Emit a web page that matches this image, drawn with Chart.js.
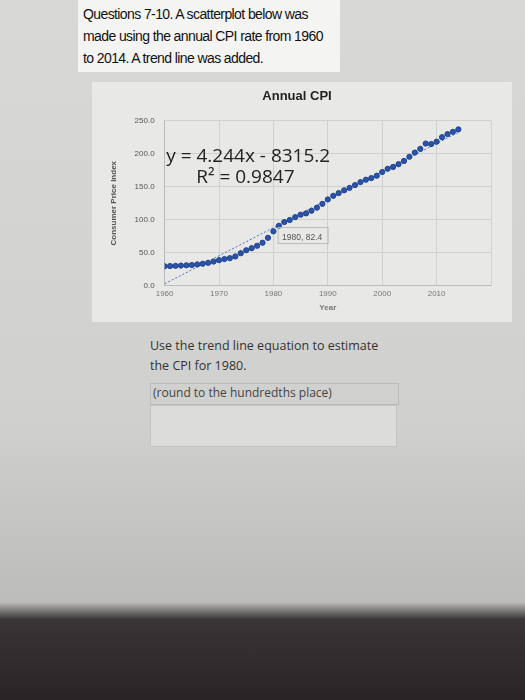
<!DOCTYPE html>
<html>
<head>
<meta charset="utf-8">
<script src="https://cdn.jsdelivr.net/npm/chart.js@4/dist/chart.umd.min.js"></script>
<style>
  body { margin: 0; width: 525px; height: 700px; overflow: hidden; position: relative;
         background: linear-gradient(180deg, #d8d8d6 0%, #d0d0ce 60%, #bcbcba 86%, #3a3436 88.5%, #2a2426 100%);
         font-family: "Open Sans", sans-serif; }
  #question { position: absolute; left: 78px; top: 0; width: 262px; height: 72px; background: #f4f4f2;
              font-family: "Liberation Sans", sans-serif; letter-spacing: -0.6px;
              font-size: 14px; line-height: 22px; color: #111; padding: 3px 5px; box-sizing: border-box; }
  #panel { position: absolute; left: 92px; top: 82px; width: 420px; height: 240px; background: #e8e8e6; }
  #chartBox { position: absolute; left: 95px; top: 85px; width: 410px; height: 230px; }
  #prompt { position: absolute; left: 150px; top: 336px; font-size: 12.5px; line-height: 20px; color: #333; }
  #hint { position: absolute; left: 150px; top: 383px; width: 245px; height: 20px; border: 1px solid #bbb;
          font-size: 12px; color: #444; padding-left: 2px; }
  #answer { position: absolute; left: 150px; top: 405px; width: 245px; height: 40px; border: 1px solid #c4c4c2; background: #dcdcda; }
</style>
</head>
<body>
<div id="question">Questions 7-10. A scatterplot below was made using the annual CPI rate from 1960 to 2014. A trend line was added.</div>
<div id="panel"></div>
<div id="chartBox"><canvas id="cpiChart"></canvas></div>
<div id="prompt">Use the trend line equation to estimate<br>the CPI for 1980.</div>
<div id="hint">(round to the hundredths place)</div>
<div id="answer"></div>
<script>
// --- DATA ---
const years = [1960,1961,1962,1963,1964,1965,1966,1967,1968,1969,1970,1971,1972,1973,1974,1975,1976,1977,1978,1979,
  1980,1981,1982,1983,1984,1985,1986,1987,1988,1989,1990,1991,1992,1993,1994,1995,1996,1997,1998,1999,
  2000,2001,2002,2003,2004,2005,2006,2007,2008,2009,2010,2011,2012,2013,2014];
const cpi = [29.6,29.9,30.2,30.6,31.0,31.5,32.4,33.4,34.8,36.7,38.8,40.5,41.8,44.4,49.3,53.8,56.9,60.6,65.2,72.6,
  82.4,90.9,96.5,99.6,103.9,107.6,109.6,113.6,118.3,124.0,130.7,136.2,140.3,144.5,148.2,152.4,156.9,160.5,163.0,166.6,
  172.2,177.1,179.9,184.0,188.9,195.3,201.6,207.3,215.3,214.5,218.1,224.9,229.6,233.0,236.7];
const trendSlope = 4.244, trendIntercept = -8315.2;
const trendYears = [1960, 2014];
const yTicks = [0, 50, 100, 150, 200, 250];

const scatter = years.map((y, i) => ({ x: y, y: cpi[i] }));
const trend = trendYears.map(y => ({ x: y, y: trendSlope * y + trendIntercept }));

// equation text + data label
const annotate = {
  id: 'annotate',
  afterDatasetsDraw(chart) {
    const { ctx, scales: { x, y } } = chart;
    ctx.save();
    ctx.fillStyle = '#222';
    ctx.font = '19px "Open Sans", sans-serif';
    ctx.fillText('y = 4.244x - 8315.2', x.getPixelForValue(1960.3), y.getPixelForValue(188));
    ctx.fillText('R² = 0.9847', x.getPixelForValue(1965.8), y.getPixelForValue(155));
    const lx = x.getPixelForValue(1981.6), ly = y.getPixelForValue(70);
    ctx.strokeStyle = '#bbb'; ctx.strokeRect(lx - 4, ly - 12, 50, 16);
    ctx.font = '8.5px "Liberation Sans", sans-serif'; ctx.fillStyle = '#555';
    ctx.fillText('1980, 82.4', lx, ly);
    ctx.restore();
  }
};

new Chart(document.getElementById('cpiChart'), {
  type: 'scatter',
  data: {
    datasets: [
      { data: trend, type: 'line', borderColor: '#4a72b8', borderWidth: 1, borderDash: [2, 2], pointRadius: 0, order: 2 },
      { data: scatter, backgroundColor: '#2a54a8', borderColor: '#1e4290', pointRadius: 2.6, order: 1 }
    ]
  },
  options: {
    responsive: true, maintainAspectRatio: false, animation: false,
    layout: { padding: { left: 8, right: 14 } },
    plugins: {
      legend: { display: false }, tooltip: { enabled: false },
      title: { display: true, text: 'Annual CPI', color: '#222', font: { size: 13, weight: 'bold' }, padding: { top: 4, bottom: 16 } }
    },
    scales: {
      x: {
        min: 1960, max: 2020,
        ticks: { stepSize: 10, color: '#777', font: { size: 8 }, callback: v => v < 2020 ? v : '' },
        grid: { color: '#d0d0d0', drawTicks: false },
        title: { display: true, text: 'Year', color: '#777', font: { size: 8, weight: 'bold' }, padding: 2 }
      },
      y: {
        min: 0, max: 250,
        afterBuildTicks: axis => { axis.ticks = yTicks.map(v => ({ value: v })); },
        ticks: { color: '#555', font: { size: 8 }, padding: 10, callback: v => v.toFixed(1) },
        grid: { color: '#d0d0d0', drawTicks: false },
        title: { display: true, text: 'Consumer Price Index', color: '#555', font: { size: 8, weight: 'bold' }, padding: 6 }
      }
    }
  },
  plugins: [annotate]
});
</script>
</body>
</html>
